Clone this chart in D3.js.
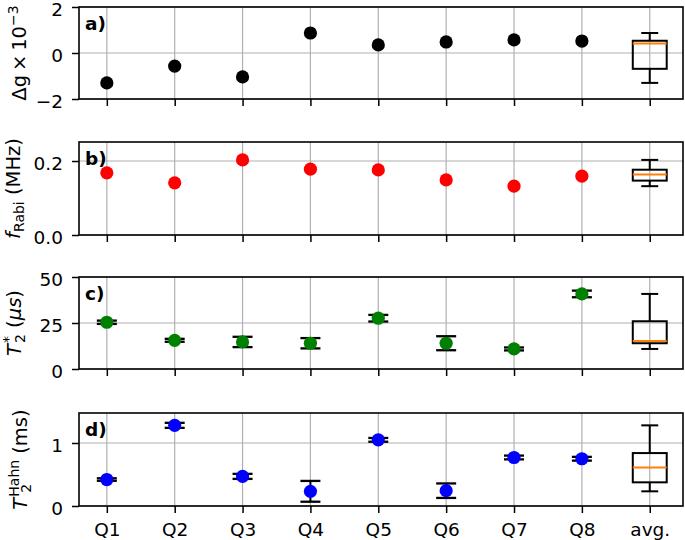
<!DOCTYPE html>
<html><head><meta charset="utf-8">
<script src="https://cdn.jsdelivr.net/npm/d3@7"></script>
<style>body{margin:0;background:#fff}text{font-family:"DejaVu Sans",sans-serif}</style>
</head><body>
<svg id="chart" width="685" height="540"></svg>
<script>
const categories = ["Q1","Q2","Q3","Q4","Q5","Q6","Q7","Q8"];
const avgLabel = "avg.";
const dgValues = [-1.30, -0.57, -1.04, 0.87, 0.35, 0.48, 0.57, 0.52];
const fRabiValues = [0.168, 0.141, 0.203, 0.178, 0.176, 0.149, 0.132, 0.159];
const t2StarValues = [25.4, 15.6, 14.7, 14.0, 27.6, 14.0, 10.9, 40.8];
const t2StarErrors = [0.9, 0.8, 2.8, 2.8, 1.8, 3.8, 0.8, 1.8];
const t2HahnValues = [0.42, 1.28, 0.47, 0.233, 1.05, 0.243, 0.77, 0.75];
const t2HahnErrors = [0.02, 0.04, 0.04, 0.165, 0.03, 0.115, 0.03, 0.03];
const dgTicks = [-2, 0, 2];
const fRabiTicks = [0.0, 0.2];
const t2StarTicks = [0, 25, 50];
const t2HahnTicks = [0, 1];
const dgDomain = [-2, 2];
const fRabiDomain = [0, 0.2514];
const t2StarDomain = [0, 50];
const t2HahnDomain = [0, 1.476];

const svg = d3.select("#chart");
const X0 = 79, X1 = 683;
const FS = 18.5, LFS = 19.5, SFS = 14;
const xs = d3.scaleLinear().domain([0.59, 9.49]).range([X0, X1]);
const xPos = categories.map((c, i) => i + 1);
const avgPos = categories.length + 1;
const fmtMinus = s => s.replace("-", "\u2212");

const panels = [
  {tag:"a)", top:7, bot:99, domain:dgDomain, ticks:dgTicks, fmt:d=>fmtMinus(String(d)), vals:dgValues, errs:null, color:"#000000", labelX:26, label:"dg"},
  {tag:"b)", top:142, bot:235, domain:fRabiDomain, ticks:fRabiTicks, fmt:d=>d.toFixed(1), vals:fRabiValues, errs:null, color:"#ff0000", labelX:20, label:"rabi"},
  {tag:"c)", top:277, bot:369, domain:t2StarDomain, ticks:t2StarTicks, fmt:d=>String(d), vals:t2StarValues, errs:t2StarErrors, color:"#008000", labelX:21, label:"t2s"},
  {tag:"d)", top:413, bot:506, domain:t2HahnDomain, ticks:t2HahnTicks, fmt:d=>String(d), vals:t2HahnValues, errs:t2HahnErrors, color:"#0000ff", labelX:27, label:"t2h"}
];

function boxStats(v) {
  const s = v.slice().sort(d3.ascending);
  const q1 = d3.quantile(s, 0.25), med = d3.quantile(s, 0.5), q3 = d3.quantile(s, 0.75);
  const iqr = q3 - q1;
  const lo = d3.min(s.filter(d => d >= q1 - 1.5 * iqr));
  const hi = d3.max(s.filter(d => d <= q3 + 1.5 * iqr));
  return {q1, med, q3, lo, hi};
}

panels.forEach((p, pi) => {
  const ys = d3.scaleLinear().domain(p.domain).range([p.bot, p.top]);
  const g = svg.append("g");
  const allX = xPos.concat([avgPos]);
  g.selectAll(".vg").data(allX).enter().append("line")
    .attr("x1", d => xs(d)).attr("x2", d => xs(d)).attr("y1", p.top).attr("y2", p.bot)
    .attr("stroke", "#b0b0b0").attr("stroke-width", 1.2);
  g.selectAll(".hg").data(p.ticks).enter().append("line")
    .attr("x1", X0).attr("x2", X1).attr("y1", d => ys(d)).attr("y2", d => ys(d))
    .attr("stroke", "#b0b0b0").attr("stroke-width", 1.2);
  const yAxis = d3.axisLeft(ys).tickValues(p.ticks).tickFormat(p.fmt).tickSize(7).tickPadding(9);
  const ya = g.append("g").attr("transform", `translate(${X0},0)`).call(yAxis);
  const xAxis = d3.axisBottom(xs).tickValues(allX)
    .tickFormat((d) => pi === 3 ? (d === avgPos ? avgLabel : categories[d - 1]) : "")
    .tickSize(7).tickPadding(10);
  const xa = g.append("g").attr("transform", `translate(0,${p.bot})`).call(xAxis);
  [ya, xa].forEach(a => {
    a.select(".domain").remove();
    a.selectAll("line").attr("stroke", "#000").attr("stroke-width", 1.5);
    a.selectAll("text").attr("font-size", FS).attr("fill", "#000").attr("font-family", "DejaVu Sans");
  });
  ya.selectAll("text").attr("dy", "0.46em");
  if (p.errs) {
    const eb = g.append("g");
    p.vals.forEach((v, i) => {
      const x = xs(xPos[i]), e = p.errs[i];
      eb.append("line").attr("x1", x).attr("x2", x).attr("y1", ys(v - e)).attr("y2", ys(v + e))
        .attr("stroke", "#000").attr("stroke-width", 2);
      [v - e, v + e].forEach(c => eb.append("line").attr("x1", x - 10).attr("x2", x + 10)
        .attr("y1", ys(c)).attr("y2", ys(c)).attr("stroke", "#000").attr("stroke-width", 2.3));
    });
  }
  g.selectAll(".pt").data(p.vals).enter().append("circle")
    .attr("cx", (d, i) => xs(xPos[i])).attr("cy", d => ys(d)).attr("r", 6.6).attr("fill", p.color);
  const b = boxStats(p.vals);
  const bx = xs(avgPos), bw = (xs(1.5) - xs(1)) / 2, cw = bw / 2;
  const bg = g.append("g").attr("stroke", "#000").attr("stroke-width", 2).attr("fill", "none");
  bg.append("line").attr("x1", bx).attr("x2", bx).attr("y1", ys(b.q3)).attr("y2", ys(b.hi));
  bg.append("line").attr("x1", bx).attr("x2", bx).attr("y1", ys(b.q1)).attr("y2", ys(b.lo));
  bg.append("line").attr("x1", bx - cw).attr("x2", bx + cw).attr("y1", ys(b.hi)).attr("y2", ys(b.hi));
  bg.append("line").attr("x1", bx - cw).attr("x2", bx + cw).attr("y1", ys(b.lo)).attr("y2", ys(b.lo));
  bg.append("rect").attr("x", bx - bw).attr("width", 2 * bw).attr("y", ys(b.q3)).attr("height", ys(b.q1) - ys(b.q3));
  g.append("line").attr("x1", bx - bw).attr("x2", bx + bw).attr("y1", ys(b.med)).attr("y2", ys(b.med))
    .attr("stroke", "#ff7f0e").attr("stroke-width", 2);
  g.append("rect").attr("x", X0).attr("y", p.top).attr("width", X1 - X0).attr("height", p.bot - p.top)
    .attr("fill", "none").attr("stroke", "#000").attr("stroke-width", 1.6);
  g.append("text").attr("x", 85).attr("y", p.top + 23).attr("font-size", FS).attr("font-weight", "bold").text(p.tag);
  const cy = (p.top + p.bot) / 2;
  const t = g.append("text").attr("transform", `translate(${p.labelX},${cy}) rotate(-90)`)
    .attr("text-anchor", "middle").attr("font-size", LFS);
  if (p.label === "dg") {
    t.append("tspan").text("\u0394g\u2009\u00d7\u200910");
    t.append("tspan").attr("dy", -8).attr("font-size", SFS).text("\u22123");
  } else if (p.label === "rabi") {
    t.append("tspan").attr("font-style", "italic").text("f");
    t.append("tspan").attr("dy", 4).attr("font-size", SFS).text("Rabi");
    t.append("tspan").attr("dy", -4).text(" (MHz)");
  } else if (p.label === "t2s") {
    t.append("tspan").attr("font-style", "italic").text("T");
    t.append("tspan").attr("dy", -8).attr("dx", 1).attr("font-size", SFS).text("*");
    t.append("tspan").attr("dy", 12).attr("dx", -7).attr("font-size", SFS).text("2");
    t.append("tspan").attr("dy", -4).text(" (");
    t.append("tspan").attr("font-style", "italic").text("\u03bcs");
    t.append("tspan").text(")");
  } else {
    t.append("tspan").attr("font-style", "italic").text("T");
    t.append("tspan").attr("dy", -8).attr("dx", 1).attr("font-size", SFS).text("Hahn");
    t.append("tspan").attr("dy", 12).attr("dx", -33).attr("font-size", SFS).text("2");
    t.append("tspan").attr("dy", -4).attr("dx", 24).text(" (ms)");
  }
});
</script>
</body></html>
